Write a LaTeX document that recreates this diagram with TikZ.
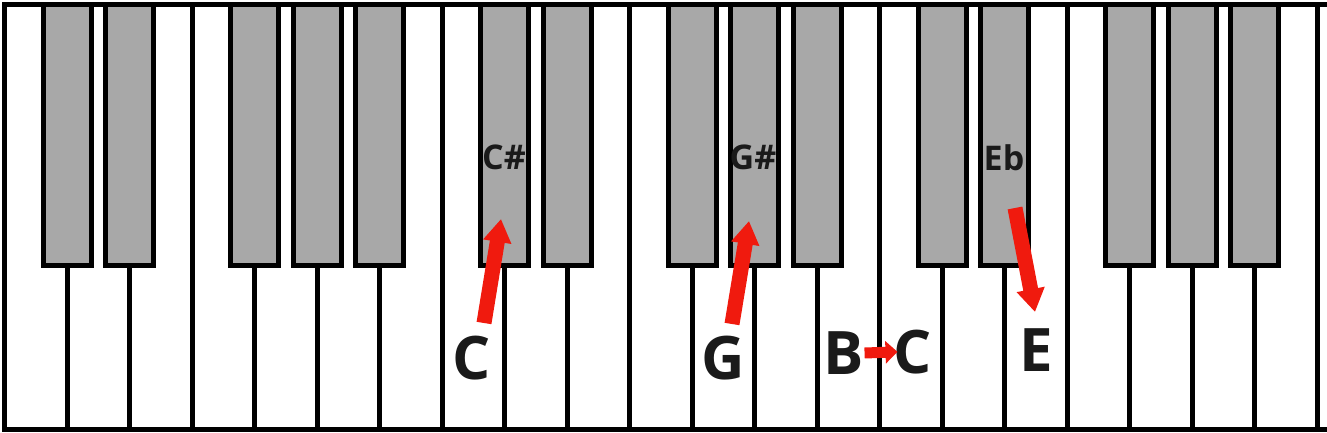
\documentclass[tikz,border=0pt]{standalone}
\usepackage{fontspec}
\setmainfont{Open Sans}
\usetikzlibrary{calc,arrows.meta}
\definecolor{keygray}{HTML}{A8A8A8}
\definecolor{hintred}{HTML}{F01A0E}
\definecolor{ink}{HTML}{1A1A1A}
\tikzset{
  keyline/.style={line width=2.5pt},
  blackkey/.style={draw,fill=keygray,line width=2.5pt},
  bignote/.style={inner sep=0pt,text=ink,font=\fontsize{30}{30}\selectfont\bfseries},
  smallnote/.style={inner sep=0pt,text=ink,font=\fontsize{17}{17}\selectfont\bfseries},
  hint/.style={hintred,line width=7.5pt,-{Triangle[width=13.5pt,length=11.5pt]}},
  smallhint/.style={hintred,line width=5.5pt,-{Triangle[width=11pt,length=6pt]}}
}
\begin{document}
\begin{tikzpicture}[x=0.5pt,y=-0.5pt]
\useasboundingbox (0,0) rectangle (1327,433);

% white keys
\foreach \k in {0,...,21}
  \draw[keyline] (4.5+\k*62.5,4.5) -- (4.5+\k*62.5,429.5);
\draw[keyline] (2,4.5) -- (1327,4.5);
\draw[keyline] (2,429.5) -- (1327,429.5);

% black keys
\foreach \k in {1,2,4,5,6,8,9,11,12,13,15,16,18,19,20}
  \draw[blackkey] (4.5+\k*62.5-24,4.5) rectangle (4.5+\k*62.5+24,265);

% note names
\node[smallnote] (sharpC) at (504,157) {C\#};
\node[smallnote] (sharpG) at (753,157) {G\#};
\node[smallnote] (flatE) at (1004,158) {Eb};
\node[bignote] (lowC) at (472,358) {C};
\node[bignote] (lowG) at (723,358) {G};
\node[bignote] (lowB) at (844,353) {B};
\node[bignote] (highC) at (913,352) {C};
\node[bignote] (highE) at (1036,350) {E};

% moves
\coordinate (cTail) at ($ (lowC)+(12,-35) $);
\coordinate (cTip) at ($ (sharpC)+(-3,62) $);
\coordinate (gTail) at ($ (lowG)+(9,-34) $);
\coordinate (gTip) at ($ (sharpG)+(-4,64) $);
\coordinate (eTail) at ($ (flatE)+(11,50) $);
\coordinate (eTip) at ($ (highE)+(-1,-38) $);
\draw[hint] (cTail) -- (cTip);
\draw[hint] (gTail) -- (gTip);
\draw[hint] (eTail) -- (eTip);
\draw[smallhint,shorten >=-2pt] (lowB.east) -- (highC.west);

\end{tikzpicture}
\end{document}
